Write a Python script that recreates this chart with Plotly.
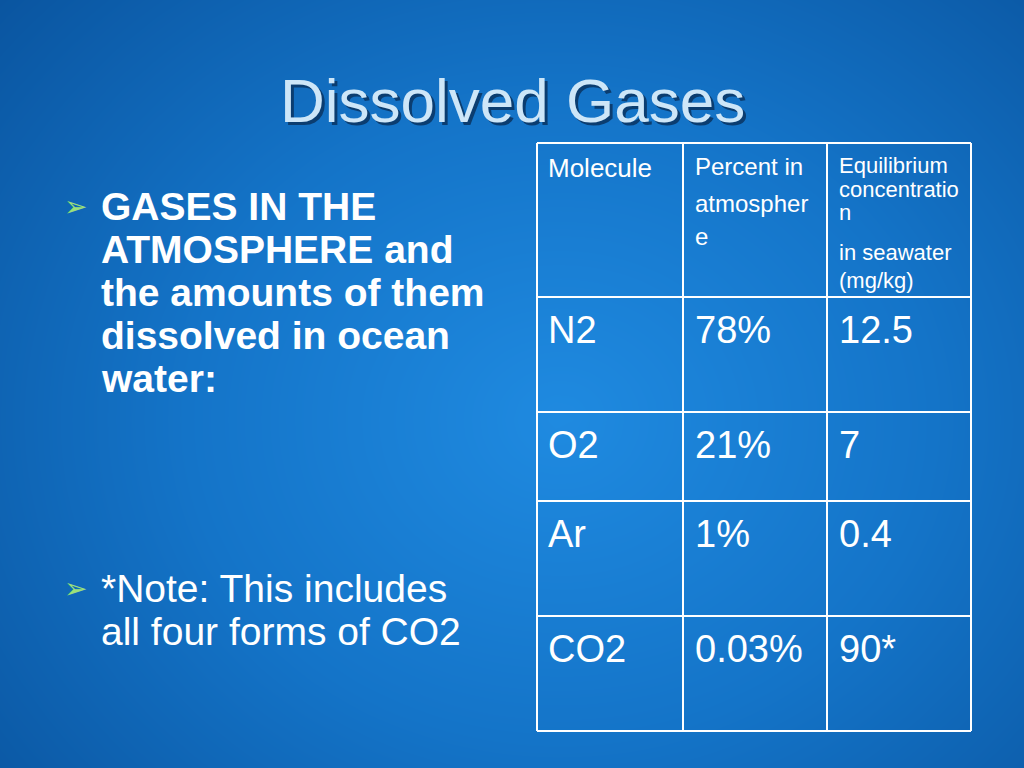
import plotly.graph_objects as go
import numpy as np

title = "Dissolved Gases"
molecules = ["N2", "O2", "Ar", "CO2"]
percent_atm = ["78%", "21%", "1%", "0.03%"]
equilibrium = ["12.5", "7", "0.4", "90*"]
bullets = [["GASES IN THE", "ATMOSPHERE and", "the amounts of them", "dissolved in ocean", "water:"],
           ["*Note: This includes", "all four forms of CO2"]]

col_x = [537, 683, 827, 971]
row_y = [143, 297, 412, 501, 616, 731]

fig = go.Figure()
gx = np.linspace(0, 1024, 60); gy = np.linspace(0, 768, 45)
X, Y = np.meshgrid(gx, gy)
Z = np.sqrt(((X-560)/700)**2 + ((Y-420)/600)**2)
fig.add_trace(go.Heatmap(x=gx, y=gy, z=Z, zsmooth="best", showscale=False, hoverinfo="skip",
                         colorscale=[[0, "#1f8ae0"], [0.5, "#1474c8"], [1, "#0a55a0"]]))
F = "Liberation Sans, Arial"
shapes = []
for x in col_x:
    shapes.append(dict(type="line", x0=x, x1=x, y0=row_y[0], y1=row_y[-1], line=dict(color="white", width=2)))
for y in row_y:
    shapes.append(dict(type="line", x0=col_x[0], x1=col_x[-1], y0=y, y1=y, line=dict(color="white", width=2)))
ann = []
def t(x, y, s, size, color="white", bold=False, anchor="left"):
    ann.append(dict(x=x, y=y, text=("<b>%s</b>" % s) if bold else s, showarrow=False, xanchor=anchor,
                    yanchor="middle", font=dict(family=F, size=size, color=color)))
ann.append(dict(x=515, y=103, text=title, showarrow=False, font=dict(family=F, size=62, color="#0b3d70")))
t(512, 100, title, 62, "#cde6f8", anchor="center")
t(546, 168, "Molecule", 26)
for y, s in zip([166, 203, 236], ["Percent in", "atmospher", "e"]):
    t(693, y, s, 24)
for y, s in zip([165, 189, 212, 252, 280], ["Equilibrium", "concentratio", "n", "in seawater", "(mg/kg)"]):
    t(837, y, s, 22)
for r in range(4):
    yy = row_y[r+1] + 33
    t(546, yy, molecules[r], 38)
    t(693, yy, percent_atm[r], 38)
    t(837, yy, equilibrium[r], 38)
starts = [206, 588]
for b, lines in enumerate(bullets):
    t(62, starts[b], "➢", 28, "#9be07a")
    for i, s in enumerate(lines):
        t(99, starts[b] + i*43, s, 39, bold=(b == 0))
fig.update_layout(width=1024, height=768, margin=dict(l=0, r=0, t=0, b=0),
                  xaxis=dict(range=[0, 1024], visible=False), yaxis=dict(range=[768, 0], visible=False),
                  shapes=shapes, annotations=ann, showlegend=False)
fig.write_html("out.html", post_script="document.body.style.margin='0';",
               config={"displayModeBar": False})
